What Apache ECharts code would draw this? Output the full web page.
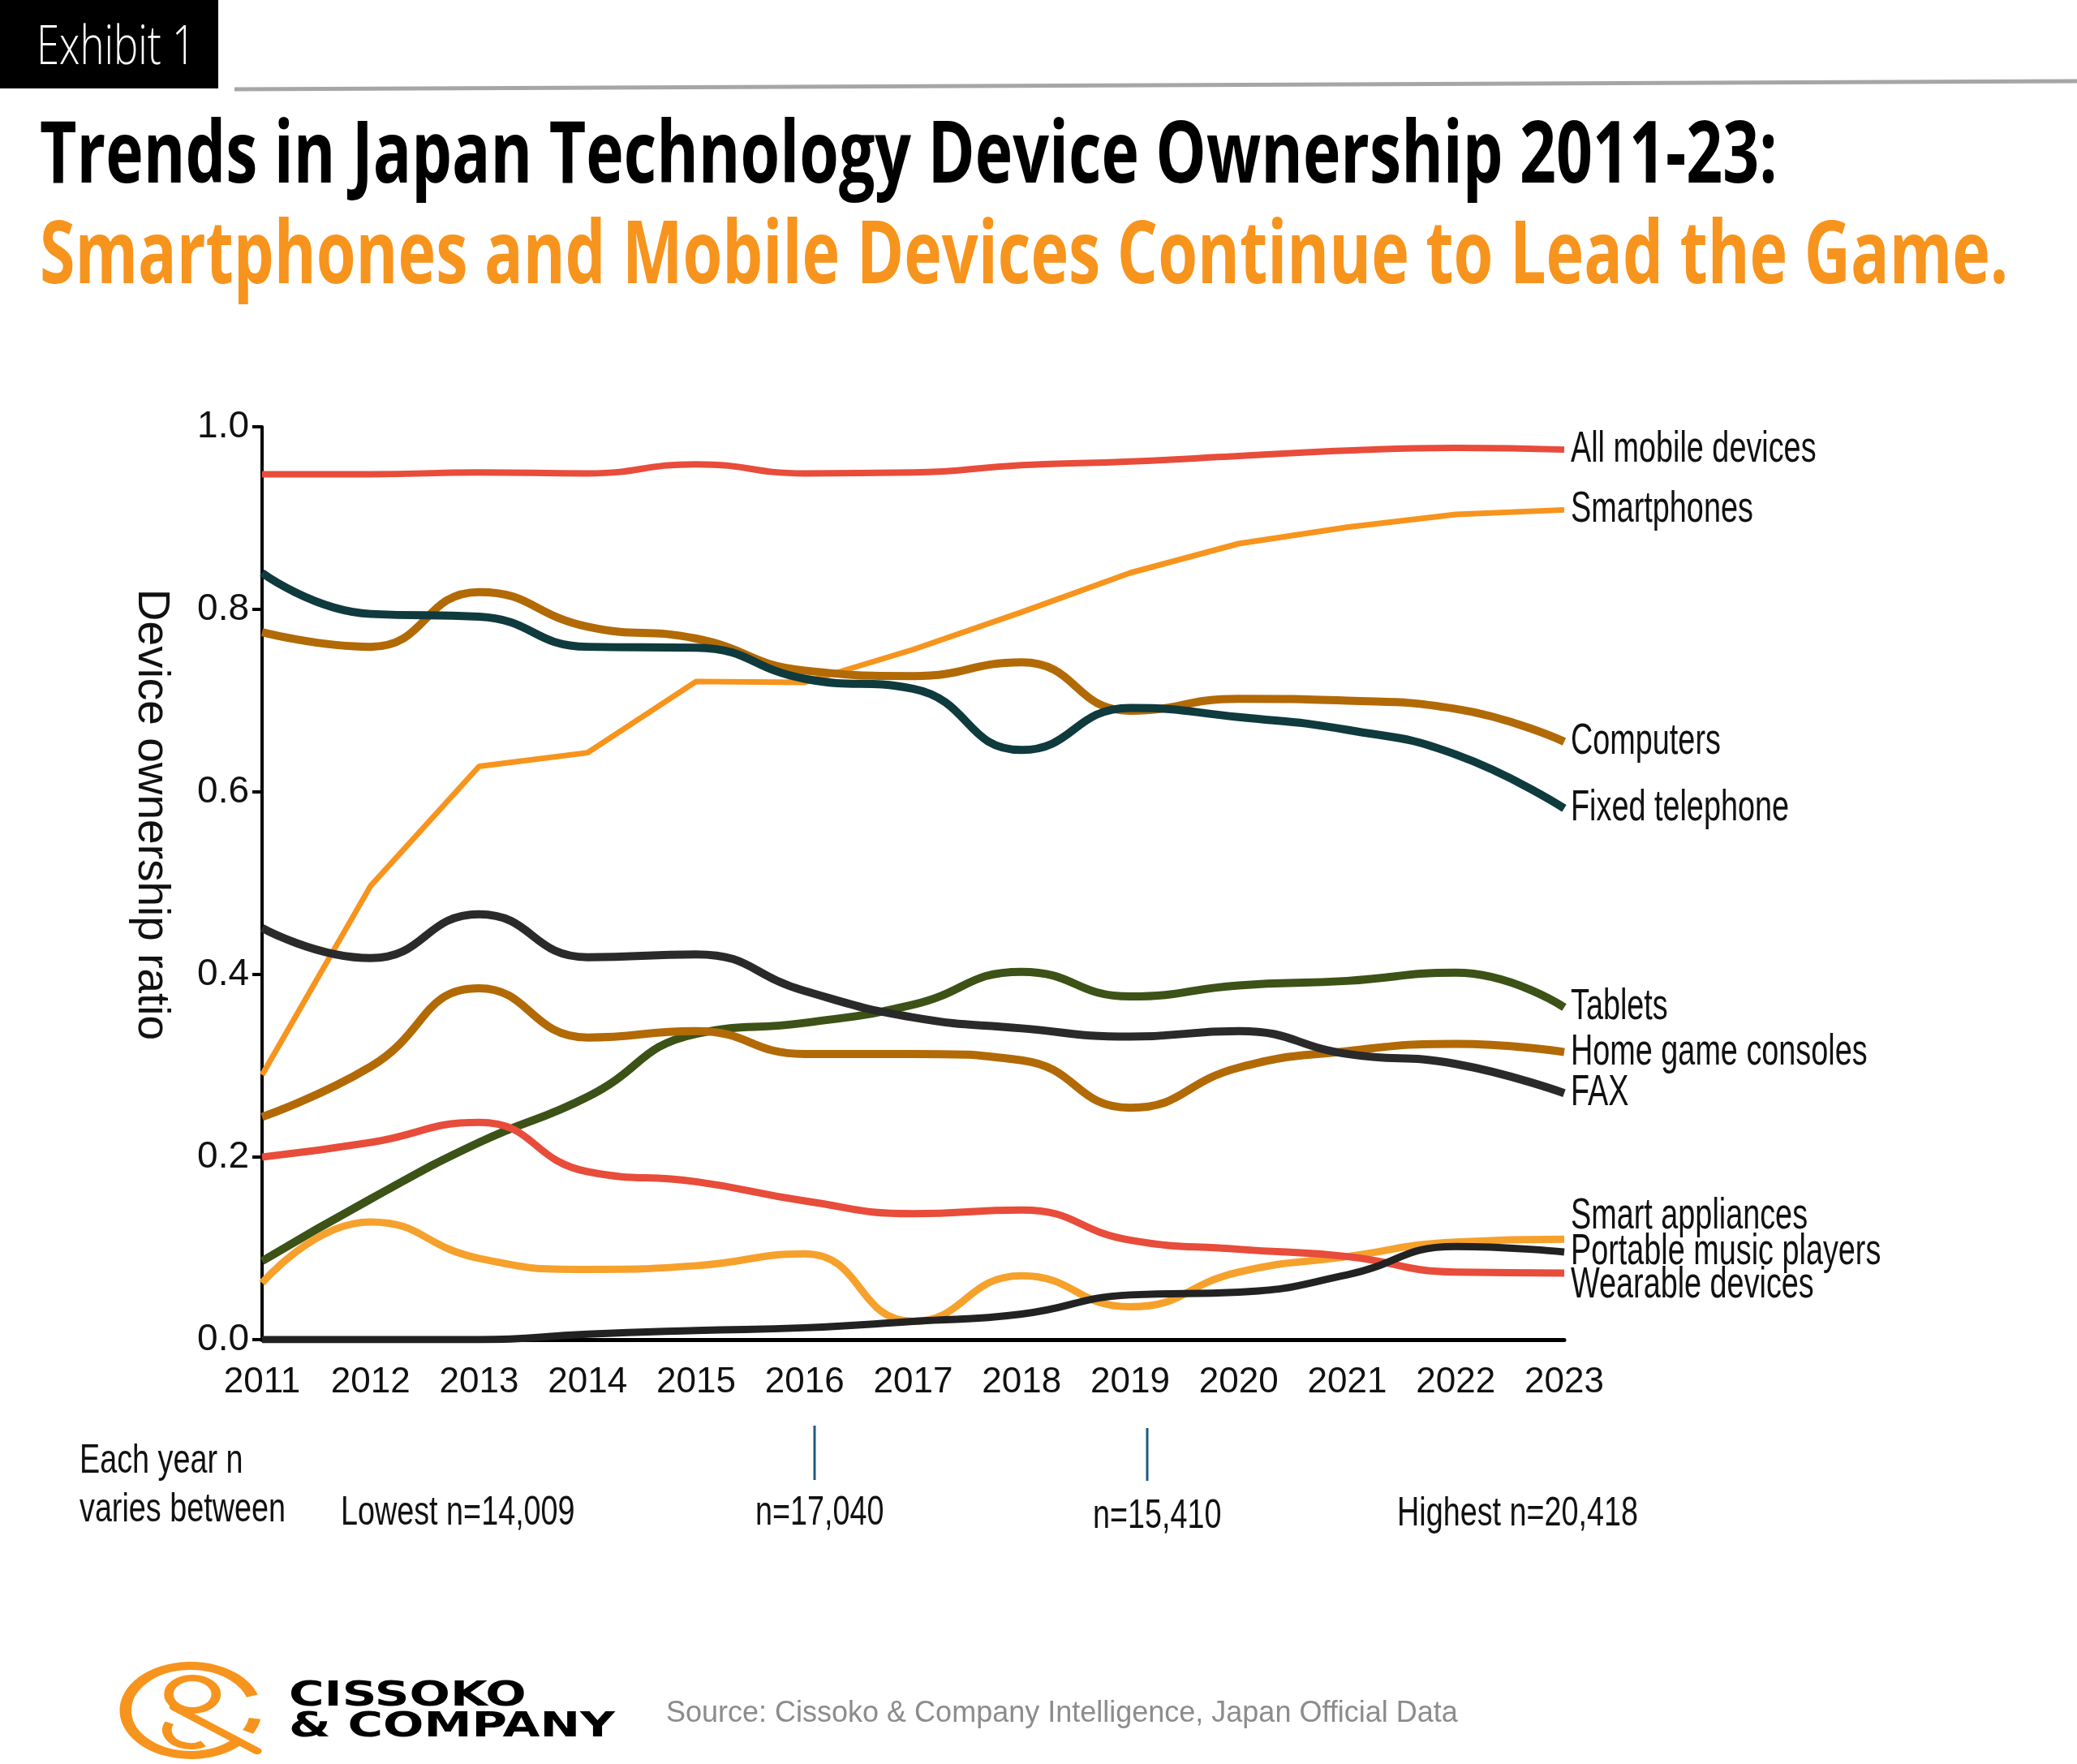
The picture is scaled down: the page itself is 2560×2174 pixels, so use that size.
<!DOCTYPE html>
<html lang="en">
<head>
<meta charset="UTF-8">
<title>Trends in Japan Technology Device Ownership 2011-23</title>
<script src="https://cdn.jsdelivr.net/npm/echarts@6/dist/echarts.min.js"></script>
<style>
  html, body { margin: 0; padding: 0; background: #fff; }
  #main { width: 2560px; height: 2174px; }
</style>
</head>
<body>
<div id="main"></div>
<script>
// ---- data ----
var years = ['2011', '2012', '2013', '2014', '2015', '2016', '2017', '2018', '2019', '2020', '2021', '2022', '2023'];
var allMobile       = [0.948, 0.948, 0.950, 0.949, 0.959, 0.949, 0.950, 0.958, 0.962, 0.968, 0.974, 0.977, 0.975];
var smartphones     = [0.290, 0.497, 0.628, 0.643, 0.721, 0.720, 0.756, 0.797, 0.840, 0.872, 0.890, 0.904, 0.909];
var computers       = [0.775, 0.759, 0.819, 0.781, 0.768, 0.733, 0.727, 0.742, 0.689, 0.702, 0.700, 0.691, 0.655];
var fixedPhone      = [0.840, 0.795, 0.792, 0.759, 0.758, 0.724, 0.713, 0.646, 0.692, 0.682, 0.668, 0.641, 0.582];
var tablets         = [0.086, 0.154, 0.216, 0.266, 0.335, 0.347, 0.367, 0.403, 0.376, 0.388, 0.393, 0.402, 0.364];
var gameConsoles    = [0.244, 0.299, 0.385, 0.331, 0.338, 0.313, 0.313, 0.306, 0.254, 0.298, 0.316, 0.324, 0.315];
var fax             = [0.451, 0.418, 0.466, 0.419, 0.422, 0.382, 0.353, 0.341, 0.332, 0.338, 0.313, 0.302, 0.270];
var smartAppliances = [0.062, 0.129, 0.089, 0.077, 0.081, 0.094, 0.020, 0.070, 0.036, 0.074, 0.091, 0.107, 0.110];
var musicPlayers    = [0.000, 0.000, 0.000, 0.006, 0.010, 0.013, 0.020, 0.028, 0.049, 0.052, 0.071, 0.102, 0.096];
var wearables       = [0.200, 0.216, 0.238, 0.184, 0.173, 0.152, 0.138, 0.142, 0.109, 0.099, 0.091, 0.074, 0.073];
var sampleNotes     = ['Lowest n=14,009', 'n=17,040', 'n=15,410', 'Highest n=20,418'];

var sans = '"Liberation Sans", Arial, sans-serif';

// name, data, colour, width, smooth, label shift
var lines = [
  ['All mobile devices', allMobile, '#e84c3a', 8, 0.5, 0],
  ['Smartphones', smartphones, '#f7941d', 7, false, 0],
  ['Computers', computers, '#b26a06', 10, 0.5, 0],
  ['Fixed telephone', fixedPhone, '#0f3a3e', 10, 0.5, 0],
  ['Tablets', tablets, '#3d5216', 10, 0.5, 0],
  ['Home game consoles', gameConsoles, '#b26a06', 10, 0.5, 0],
  ['FAX', fax, '#2a2a2a', 10, 0.5, 0],
  ['Smart appliances', smartAppliances, '#f6a12c', 9, 0.5, -28],
  ['Wearable devices', wearables, '#e84c3a', 9, 0.5, 15],
  ['Portable music players', musicPlayers, '#222', 9, 0.5, 0]
];

function txt(x, y, text, font, fill, sx, extra) {
  var o = { type: 'text', x: x, y: y, scaleX: sx || 1,
    style: { text: text, font: font, fill: fill, align: 'left', verticalAlign: 'middle' } };
  for (var k in extra) o[k] = extra[k];
  return o;
}

var chart = echarts.init(document.getElementById('main'));

chart.setOption({
  animation: false,
  backgroundColor: '#fff',
  grid: { left: 323, right: 632, top: 526, bottom: 523 },
  xAxis: {
    type: 'category',
    data: years,
    boundaryGap: false,
    axisLine: { lineStyle: { color: '#000', width: 5 } },
    axisTick: { show: false },
    axisLabel: { interval: 0, color: '#111', fontFamily: sans, fontSize: 44, margin: 31 }
  },
  yAxis: {
    type: 'value',
    min: 0,
    max: 1,
    interval: 0.2,
    axisLine: { show: true, lineStyle: { color: '#000', width: 4 } },
    axisTick: { show: true, length: 12, lineStyle: { color: '#000', width: 4 } },
    splitLine: { show: false },
    axisLabel: {
      color: '#111', fontFamily: sans, fontSize: 46, margin: 16,
      formatter: function (v) { return v.toFixed(1); }
    }
  },
  series: lines.map(function (l) {
    return {
      name: l[0], type: 'line', data: l[1], symbol: 'none', smooth: l[4],
      lineStyle: { color: l[2], width: l[3] }, itemStyle: { color: l[2] }
    };
  })
});

// series names at the right end of each line, placed through the chart's own scales
var last = years.length - 1;
var endLabels = lines.map(function (l, i) {
  var p = chart.convertToPixel({ seriesIndex: i }, [years[last], l[1][last]]);
  return txt(p[0] + 8, p[1] + l[5], l[0], '54px ' + sans, '#111', 0.70);
});

var noteFont = '50px ' + sans;
var graphics = [
  // header
  { type: 'rect', shape: { x: 0, y: 0, width: 269, height: 109 }, style: { fill: '#000' } },
  txt(45, 60, 'Exhibit 1', '300 67px "Open Sans", sans-serif', '#fff', 0.76),
  { type: 'line', shape: { x1: 289, y1: 110, x2: 2560, y2: 100 }, style: { stroke: '#a6a6a6', lineWidth: 5 } },
  txt(49, 195, 'Trends in Japan Technology Device Ownership 2011-23:', 'bold 105px "Open Sans", sans-serif', '#000', 0.749),
  txt(49, 319, 'Smartphones and Mobile Devices Continue to Lead the Game.', 'bold 107px "Open Sans", sans-serif', '#f7941d', 0.738),

  // y axis title
  { type: 'text', x: 186, y: 1004, rotation: -Math.PI / 2,
    style: { text: 'Device ownership ratio', font: '55px ' + sans, fill: '#111', align: 'center', verticalAlign: 'middle' } },

  // sample size notes
  txt(98, 1801, 'Each year n', noteFont, '#111', 0.755),
  txt(98, 1861, 'varies between', noteFont, '#111', 0.755),
  txt(420, 1865, sampleNotes[0], noteFont, '#111', 0.755),
  txt(931, 1865, sampleNotes[1], noteFont, '#111', 0.755),
  txt(1347, 1869, sampleNotes[2], noteFont, '#111', 0.755),
  txt(1722, 1866, sampleNotes[3], noteFont, '#111', 0.755),
  { type: 'line', shape: { x1: 1004, y1: 1757, x2: 1004, y2: 1824 }, style: { stroke: '#1f5a80', lineWidth: 3 } },
  { type: 'line', shape: { x1: 1414, y1: 1760, x2: 1414, y2: 1825 }, style: { stroke: '#1f5a80', lineWidth: 3 } },

  // logo
  { type: 'group', x: 235, y: 2108, scaleX: 1.46, children: [
    { type: 'arc', shape: { cx: 0, cy: 0, r: 55, startAngle: 0.75, endAngle: 5.95, clockwise: true },
      style: { stroke: '#f7941d', lineWidth: 10, fill: null, lineCap: 'butt' } },
    { type: 'arc', shape: { cx: 0, cy: 0, r: 55, startAngle: 0.18, endAngle: 0.5, clockwise: true },
      style: { stroke: '#f7941d', lineWidth: 10, fill: null, lineCap: 'butt' } },
    { type: 'circle', shape: { cx: 1.5, cy: -20, r: 20 }, style: { stroke: '#f7941d', lineWidth: 8, fill: null } },
    { type: 'arc', shape: { cx: 0, cy: 24, r: 20, startAngle: 3.6, endAngle: 1.0, clockwise: false },
      style: { stroke: '#f7941d', lineWidth: 8, fill: null } },
    { type: 'line', shape: { x1: -14, y1: -4, x2: 56, y2: 50 }, style: { stroke: '#f7941d', lineWidth: 8, lineCap: 'round' } }
  ] },
  txt(356, 2091, 'CISSOKO', 'bold 43px "DejaVu Sans", sans-serif', '#000', 1.38),
  txt(356, 2129, '& COMPANY', 'bold 43px "DejaVu Sans", sans-serif', '#000', 1.38),
  txt(821, 2112, 'Source: Cissoko & Company Intelligence, Japan Official Data', '36px ' + sans, '#8c8c8c', 1)
];

chart.setOption({ graphic: graphics.concat(endLabels) });
</script>
</body>
</html>
